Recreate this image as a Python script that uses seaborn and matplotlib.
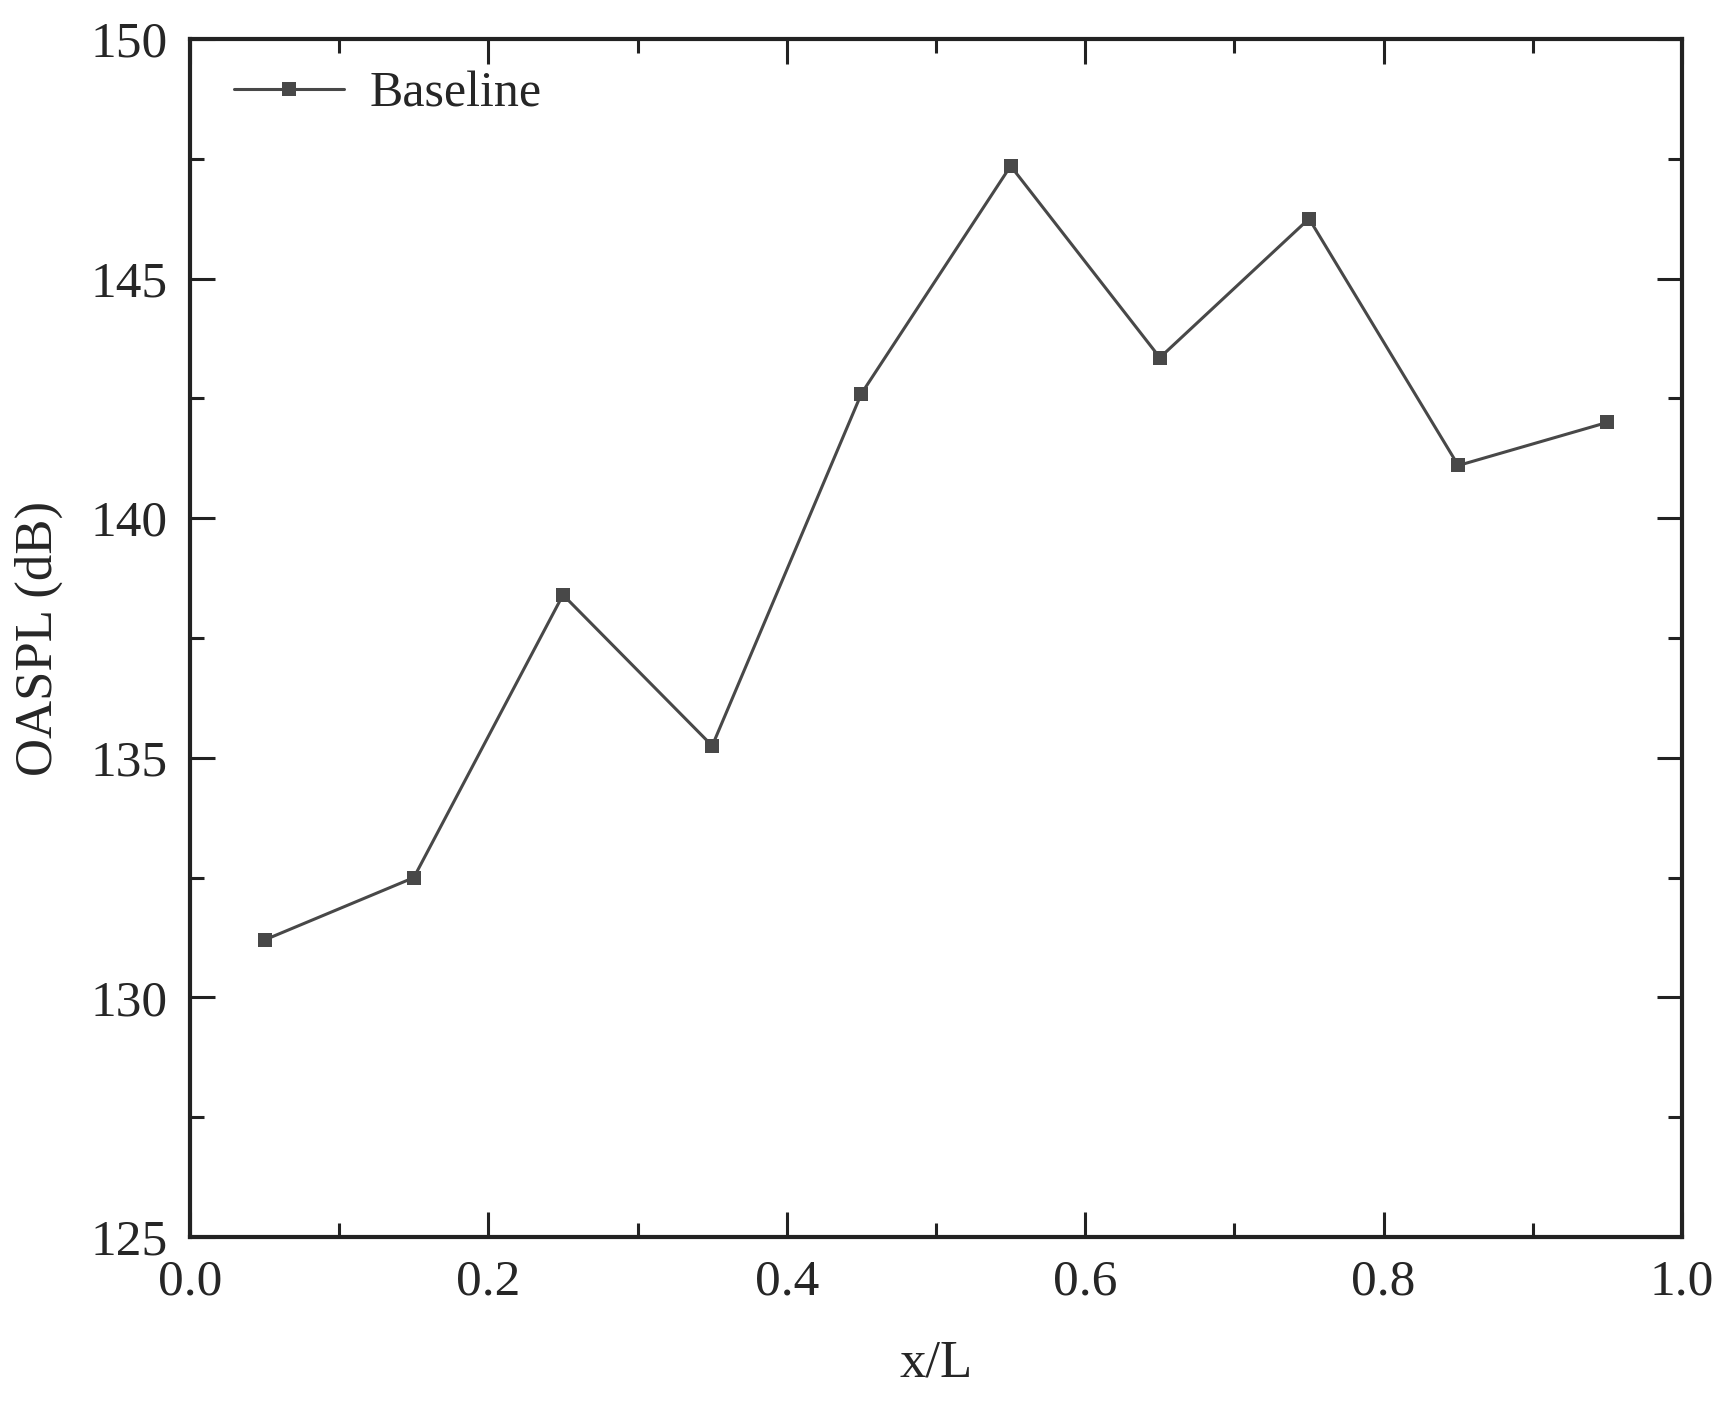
import numpy as np
import pandas as pd
import matplotlib
matplotlib.use("Agg")
import matplotlib.pyplot as plt
import matplotlib.ticker as mtk
import seaborn as sns

x_over_L = [0.05, 0.15, 0.25, 0.35, 0.45, 0.55, 0.65, 0.75, 0.85, 0.95]
oaspl = [131.2, 132.5, 138.4, 135.25, 142.6, 147.35, 143.35, 146.25, 141.1, 142.0]
series_name = "Baseline"

sns.set_style("ticks")
plt.rcParams["font.family"] = ["Liberation Serif", "DejaVu Serif"]
plt.rcParams["xtick.direction"] = "in"
plt.rcParams["ytick.direction"] = "in"

df = pd.DataFrame({"x": x_over_L, "y": oaspl, "series": series_name})

fig = plt.figure(figsize=(17.35, 14.17), dpi=100)
ax = fig.add_axes([0.1095, 0.127, 0.86, 0.8455])

sns.lineplot(data=df, x="x", y="y", hue="series", palette=["#484848"],
             marker="s", markersize=10.5, markeredgewidth=0, linewidth=2.2, ax=ax)

ax.set_xlim(0, 1.0)
ax.set_ylim(125, 150)
ax.xaxis.set_major_locator(mtk.MultipleLocator(0.2))
ax.xaxis.set_minor_locator(mtk.MultipleLocator(0.1))
ax.yaxis.set_major_locator(mtk.MultipleLocator(5))
ax.yaxis.set_minor_locator(mtk.MultipleLocator(2.5))
ax.xaxis.set_major_formatter(mtk.FormatStrFormatter("%.1f"))

ax.tick_params(which="both", top=True, right=True, width=2.2, labelsize=37, color="#222222")
ax.tick_params(which="major", length=18, pad=16)
ax.tick_params(which="minor", length=10)
for s in ax.spines.values():
    s.set_linewidth(3)
    s.set_color("#222222")

ax.set_xlabel("x/L", fontsize=38, labelpad=24)
ax.set_ylabel("OASPL (dB)", fontsize=38, labelpad=20)

leg = ax.legend(loc="upper left", frameon=False, fontsize=36, handlelength=2.2,
                handletextpad=0.5, borderaxespad=0.25, bbox_to_anchor=(0.008, 1.0))

fig.savefig("out.png", dpi=100)
